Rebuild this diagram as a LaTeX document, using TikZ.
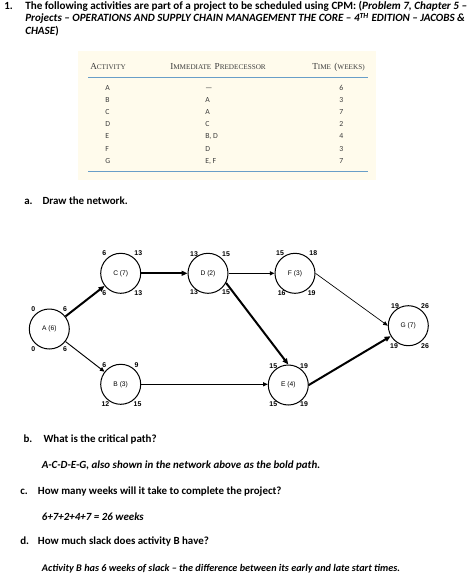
\documentclass[tikz,border=0pt]{standalone}
\usepackage{fontspec}
\setmainfont{Carlito}
\newfontfamily\tabserif{Liberation Serif}
\newfontfamily\netfont{Liberation Sans}
\usetikzlibrary{arrows.meta}
\definecolor{tablecream}{RGB}{255,251,236}
\definecolor{tableblue}{RGB}{104,158,200}
\definecolor{tabletext}{RGB}{60,60,60}
\newcommand{\tabsc}[2]{{\fontsize{6.9}{8}\selectfont #1}{\fontsize{5.4}{8}\selectfont #2}}

\tikzset{
	act/.style={draw, circle, line width=0.75pt, minimum size=30pt, inner sep=0pt, font=\fontsize{5}{6}\netfont},
	num/.style={inner sep=0pt, font=\fontsize{5.2}{6}\netfont\bfseries},
	crit/.style={-{Triangle[length=4.5pt,width=3.8pt]}, line width=1.5pt},
	flow/.style={-{Triangle[length=3.5pt,width=3pt]}, line width=0.7pt},
	txt/.style={anchor=base west, inner sep=0pt, font=\fontsize{8.2}{10}\selectfont\bfseries},
	cell/.style={anchor=base west, inner sep=0pt, text=tabletext, font=\fontsize{5.8}{7}\selectfont},
	head/.style={anchor=base west, inner sep=0pt, text=tabletext, font=\tabserif}
}

\begin{document}
\begin{tikzpicture}[x=0.75pt, y=-0.75pt]
	\useasboundingbox[fill=white] (0, 0) rectangle (475, 579);
	% question
	\node[txt] (q1) at (4, 9.5) {1.};
	\node[txt, font=\fontsize{8.35}{10}\selectfont\bfseries] (title1) at (25, 9.5) {The following activities are part of a project to be scheduled using CPM: (\textit{Problem 7, Chapter 5 –}};
	\node[txt, font=\fontsize{8.3}{10}\selectfont\bfseries] (title2) at (25, 21.8) {\textit{Projects – OPERATIONS AND SUPPLY CHAIN MANAGEMENT THE CORE – 4\textsuperscript{TH} EDITION – JACOBS \&}};
	\node[txt, font=\fontsize{8.3}{10}\selectfont\bfseries] (title3) at (25, 34.1) {\textit{CHASE}\/)};
	% table
	\fill[tablecream] (78, 51) rectangle (376, 180);
	\node[head] (h-act) at (90, 69.5) {\tabsc{A}{CTIVITY}};
	\node[head] (h-pred) at (170, 69.5) {\tabsc{I}{MMEDIATE} \tabsc{P}{REDECESSOR}};
	\node[head] (h-time) at (312, 69.5) {\tabsc{T}{IME} \tabsc{(}{WEEKS)}};
	\draw[tableblue, line width=0.9pt] (88, 77.7) -- (368, 77.7);
	\draw[tableblue, line width=0.9pt] (88, 171.7) -- (368, 171.7);
	\node[cell] (r1-act) at (105, 90) {A};
	\node[cell] (r1-pred) at (205, 90) {—};
	\node[cell] (r1-time) at (339, 90) {6};
	\node[cell] (r2-act) at (105, 102.2) {B};
	\node[cell] (r2-pred) at (205, 102.2) {A};
	\node[cell] (r2-time) at (339, 102.2) {3};
	\node[cell] (r3-act) at (105, 114.4) {C};
	\node[cell] (r3-pred) at (205, 114.4) {A};
	\node[cell] (r3-time) at (339, 114.4) {7};
	\node[cell] (r4-act) at (105, 126.6) {D};
	\node[cell] (r4-pred) at (205, 126.6) {C};
	\node[cell] (r4-time) at (339, 126.6) {2};
	\node[cell] (r5-act) at (105, 138.8) {E};
	\node[cell] (r5-pred) at (205, 138.8) {B, D};
	\node[cell] (r5-time) at (339, 138.8) {4};
	\node[cell] (r6-act) at (105, 151) {F};
	\node[cell] (r6-pred) at (205, 151) {D};
	\node[cell] (r6-time) at (339, 151) {3};
	\node[cell] (r7-act) at (105, 163.2) {G};
	\node[cell] (r7-pred) at (205, 163.2) {E, F};
	\node[cell] (r7-time) at (339, 163.2) {7};
	\node[txt] (qa) at (24, 204.3) {a.};
	\node[txt] (qa-text) at (42.3, 204.3) {Draw the network.};
	% network
	\node[act] (a) at (49.3, 329) {A (6)};
	\node[num] (a-es) at (33.3, 309.3) {0};
	\node[num] (a-ef) at (65, 309.3) {6};
	\node[num] (a-ls) at (33.3, 349.3) {0};
	\node[num] (a-lf) at (65, 349.3) {6};
	\node[act] (c) at (120.7, 273.3) {C (7)};
	\node[num] (c-es) at (104.3, 253.3) {6};
	\node[num] (c-ef) at (138.3, 253.3) {13};
	\node[num] (c-ls) at (104.3, 293.3) {6};
	\node[num] (c-lf) at (138.3, 293.3) {13};
	\node[act] (b) at (120.7, 384.3) {B (3)};
	\node[num] (b-es) at (104.3, 364.8) {6};
	\node[num] (b-ef) at (136.5, 364.8) {9};
	\node[num] (b-ls) at (105.5, 404.3) {12};
	\node[num] (b-lf) at (137.5, 404.3) {15};
	\node[act] (d) at (208, 273.3) {D (2)};
	\node[num] (d-es) at (194, 253.8) {13};
	\node[num] (d-ef) at (226, 253.8) {15};
	\node[num] (d-ls) at (194, 292.5) {13};
	\node[num] (d-lf) at (226, 292.5) {15};
	\node[act] (f) at (295, 273.3) {F (3)};
	\node[num] (f-es) at (280, 253.3) {15};
	\node[num] (f-ef) at (313.3, 253.3) {18};
	\node[num] (f-ls) at (281.7, 293.3) {16};
	\node[num] (f-lf) at (311.7, 293.3) {19};
	\node[act] (e) at (288.3, 385) {E (4)};
	\node[num] (e-es) at (273.3, 365.7) {15};
	\node[num] (e-ef) at (304, 365.7) {19};
	\node[num] (e-ls) at (273.3, 404.3) {15};
	\node[num] (e-lf) at (304, 404.3) {19};
	\node[act] (g) at (408.3, 325.7) {G (7)};
	\node[num] (g-es) at (395, 306.5) {19};
	\node[num] (g-ef) at (425, 306.5) {26};
	\node[num] (g-ls) at (394, 346) {19};
	\node[num] (g-lf) at (425, 346) {26};
	\draw[crit] (a) -- (c);
	\draw[flow] (a) -- (b);
	\draw[crit] (c) -- (d);
	\draw[flow] (d) -- (f);
	\draw[crit] (d.-28) -- (e.north);
	\draw[flow] (b.east) -- (e.west |- b.east);
	\draw[flow, line width=0.5pt] (f.east) -- (g.west);
	\draw[crit] (e.east) -- (g);
	% answers
	\node[txt] (qb) at (23.3, 442.5) {b.};
	\node[txt] (qb-text) at (43.3, 442.5) {What is the critical path?};
	\node[txt] (ab) at (41.7, 468) {\textit{A-C-D-E-G, also shown in the network above as the bold path.}};
	\node[txt] (qc) at (20, 494.3) {c.};
	\node[txt] (qc-text) at (37.7, 494.3) {How many weeks will it take to complete the project?};
	\node[txt] (ac) at (41.7, 520) {\textit{6+7+2+4+7 = 26 weeks}};
	\node[txt] (qd) at (20, 544.3) {d.};
	\node[txt] (qd-text) at (37.7, 544.3) {How much slack does activity B have?};
	\node[txt, font=\fontsize{7.65}{10}\selectfont\bfseries] (ad) at (41.7, 571) {\textit{Activity B has 6 weeks of slack – the difference between its early and late start times.}};
\end{tikzpicture}
\end{document}
